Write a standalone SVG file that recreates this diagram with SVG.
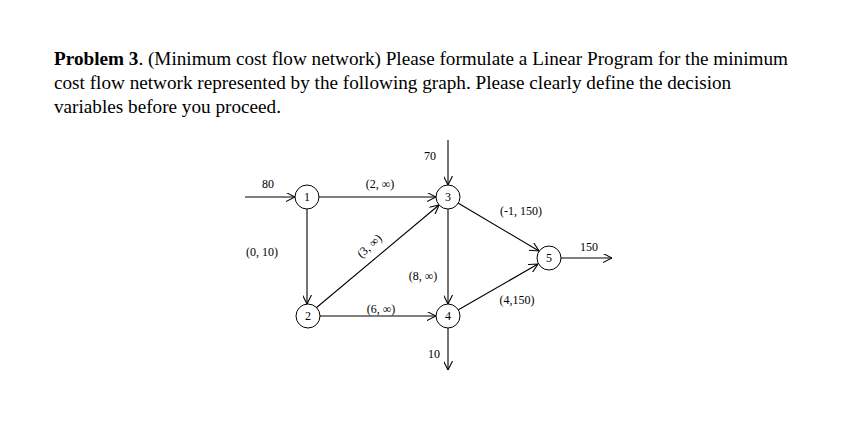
<svg xmlns="http://www.w3.org/2000/svg" width="841" height="431" viewBox="0 0 841 431">
<defs>
<marker id="a" viewBox="0 0 10 10" refX="10" refY="5" markerWidth="9" markerHeight="9" orient="auto" markerUnits="userSpaceOnUse"><path d="M0,0 L10,5 L0,10" fill="none" stroke="#000" stroke-width="1.2"/></marker>
</defs>
<style>
.t{font-family:"Liberation Serif",serif;font-size:19.2px;fill:#000}
.l{font-family:"Liberation Serif",serif;font-size:12px;fill:#000;text-anchor:middle}
.e{stroke:#000;stroke-width:1.1;fill:none;marker-end:url(#a)}
circle{fill:#fff;stroke:#000;stroke-width:1}
</style>
<rect width="841" height="431" fill="#fff"/>
<text class="t" x="54" y="65"><tspan font-weight="bold">Problem 3</tspan>. (Minimum cost flow network) Please formulate a Linear Program for the minimum</text>
<text class="t" x="54" y="89">cost flow network represented by the following graph.  Please clearly define the decision</text>
<text class="t" x="54" y="113">variables before you proceed.</text>
<g id="connectors">
<line class="e" x1="245" y1="197" x2="295" y2="197"/>
<line class="e" x1="319" y1="197" x2="436" y2="197"/>
<line class="e" x1="448" y1="140" x2="448" y2="185"/>
<line class="e" x1="307" y1="209" x2="307" y2="304"/>
<line class="e" x1="316" y1="308" x2="439" y2="205"/>
<line class="e" x1="320" y1="316" x2="436" y2="316"/>
<line class="e" x1="448" y1="209" x2="448" y2="304"/>
<line class="e" x1="458" y1="203" x2="539" y2="251"/>
<line class="e" x1="458" y1="310" x2="538" y2="264"/>
<line class="e" x1="561" y1="258" x2="612" y2="258"/>
<line class="e" x1="448" y1="328" x2="448" y2="370"/>
</g>
<g id="labels">
<text class="l" x="268" y="188">80</text>
<text class="l" x="380" y="188">(2, ∞)</text>
<text class="l" x="430" y="160">70</text>
<text class="l" x="521" y="215">(-1, 150)</text>
<text class="l" x="262" y="256">(0, 10)</text>
<text class="l" transform="translate(372,249) rotate(-42)">(3, ∞)</text>
<text class="l" x="423" y="280">(8, ∞)</text>
<text class="l" x="381" y="313">(6, ∞)</text>
<text class="l" x="517" y="304" font-size="13">(4,150)</text>
<text class="l" x="589" y="251">150</text>
<text class="l" x="434" y="358">10</text>
</g>
<g id="n1"><circle cx="307" cy="197" r="12"/><text class="l" x="307" y="201">1</text></g>
<g id="n2"><circle cx="308" cy="316" r="12"/><text class="l" x="308" y="320">2</text></g>
<g id="n3"><circle cx="448" cy="197" r="12"/><text class="l" x="448" y="201">3</text></g>
<g id="n4"><circle cx="448" cy="316" r="12"/><text class="l" x="448" y="320">4</text></g>
<g id="n5"><circle cx="549" cy="258" r="12"/><text class="l" x="549" y="262">5</text></g>
</svg>
